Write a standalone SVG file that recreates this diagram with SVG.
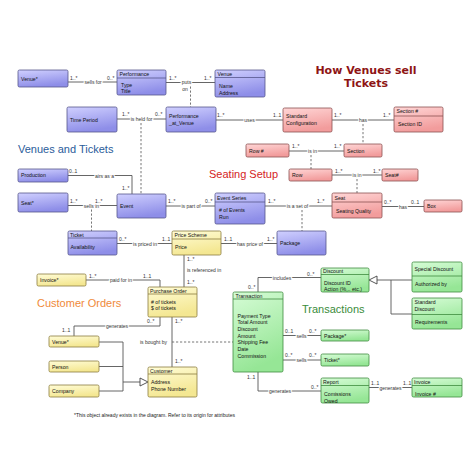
<svg xmlns="http://www.w3.org/2000/svg" width="474" height="474" viewBox="0 0 474 474">
<style>
text{font-family:"Liberation Sans",Arial,sans-serif}
.t{font-size:5.2px;fill:#111}
.l{font-size:5px;fill:#333}
.m{text-anchor:middle;stroke:#fff;stroke-width:2;paint-order:stroke}
.c{fill:none;stroke:#555;stroke-width:0.9}
.d{fill:none;stroke:#666;stroke-width:0.9;stroke-dasharray:2.2,1.8}
.b rect{fill:url(#gb);stroke:#55558c;stroke-width:0.8}
.r rect{fill:url(#gr);stroke:#8c5050;stroke-width:0.8}
.y rect{fill:url(#gy);stroke:#8c7c40;stroke-width:0.8}
.g rect{fill:url(#gg);stroke:#3f8c3f;stroke-width:0.8}
.b line{stroke:#55558c;stroke-width:0.8}
.r line{stroke:#8c5050;stroke-width:0.8}
.y line{stroke:#8c7c40;stroke-width:0.8}
.g line{stroke:#3f8c3f;stroke-width:0.8}
.h{font-size:11px}
.ttl{font-family:"DejaVu Sans",sans-serif;font-weight:bold;font-size:11px;fill:#8e1414;text-anchor:middle}
</style>
<defs>
<linearGradient id="gb" x1="0" y1="0" x2="0.3" y2="1"><stop offset="0" stop-color="#d0d0ff"/><stop offset="1" stop-color="#8e8ee8"/></linearGradient>
<linearGradient id="gr" x1="0" y1="0" x2="0.3" y2="1"><stop offset="0" stop-color="#ffd6d6"/><stop offset="1" stop-color="#f29c9c"/></linearGradient>
<linearGradient id="gy" x1="0" y1="0" x2="0.3" y2="1"><stop offset="0" stop-color="#fffcd6"/><stop offset="1" stop-color="#f4e792"/></linearGradient>
<linearGradient id="gg" x1="0" y1="0" x2="0.3" y2="1"><stop offset="0" stop-color="#d6fcd6"/><stop offset="1" stop-color="#96e696"/></linearGradient>
</defs>
<rect width="474" height="474" fill="#fff"/>

<!-- titles -->
<text x="366" y="73.5" class="ttl">How Venues sell</text>
<text x="366" y="86.5" class="ttl">Tickets</text>
<text x="18" y="153" class="h" fill="#2a5c9a">Venues and Tickets</text>
<text x="209" y="178" class="h" fill="#d42424">Seating Setup</text>
<text x="37" y="307" class="h" fill="#f08a3a">Customer Orders</text>
<text x="302" y="313" class="h" fill="#3a8c3a">Transactions</text>
<text x="74" y="416.5" style="font-size:5px;fill:#222">*This object already exists in the diagram. Refer to its origin for attributes</text>

<!-- connectors -->
<g id="connectors">
<line class="c" x1="68" y1="82" x2="117" y2="82"/>
<line class="c" x1="166" y1="82.5" x2="215" y2="82.5"/>
<line class="d" x1="190.5" y1="82.5" x2="190.5" y2="107"/>
<line class="c" x1="117" y1="119" x2="166" y2="119"/>
<line class="d" x1="141" y1="119" x2="141" y2="194"/>
<line class="c" x1="216" y1="120" x2="283" y2="120"/>
<line class="c" x1="332" y1="120" x2="394" y2="120"/>
<line class="d" x1="363" y1="120" x2="363" y2="144"/>
<line class="c" x1="289" y1="151" x2="344" y2="151"/>
<line class="d" x1="311" y1="151" x2="311" y2="169"/>
<path class="c" d="M68,175.5 H132 V194"/>
<line class="c" x1="68" y1="205.5" x2="117" y2="205.5"/>
<line class="d" x1="91.5" y1="205.5" x2="91.5" y2="231"/>
<line class="c" x1="166" y1="206" x2="215" y2="206"/>
<line class="c" x1="265" y1="206" x2="332" y2="206"/>
<line class="d" x1="302" y1="206" x2="302" y2="231"/>
<line class="c" x1="332" y1="175" x2="382" y2="175"/>
<line class="d" x1="357" y1="175" x2="357" y2="193"/>
<line class="c" x1="382" y1="206.5" x2="424" y2="206.5"/>
<line class="c" x1="117" y1="243.5" x2="172" y2="243.5"/>
<line class="c" x1="221" y1="243.5" x2="277" y2="243.5"/>
<line class="c" x1="184" y1="255" x2="184" y2="287"/>
<path class="c" d="M86,280 H160 V287"/>
<path class="c" d="M160,317 V326 H74 V336"/>
<line class="c" x1="172" y1="317" x2="172" y2="367"/>
<line class="d" x1="172" y1="342" x2="233" y2="342"/>
<path class="c" d="M99,342 H123 M99,366.5 H123 M99,391 H123 M123,342 V391 M123,382 H140"/>
<polygon points="140,378 148,382 140,386" fill="#fff" stroke="#444" stroke-width="0.9"/>
<path class="c" d="M258,292 V277.5 H321"/>
<path class="c" d="M377,280 H412 M391,280 V314 H412"/>
<polygon points="369,280 377,276 377,284" fill="#fff" stroke="#444" stroke-width="0.9"/>
<line class="c" x1="283" y1="335.5" x2="321" y2="335.5"/>
<line class="c" x1="283" y1="360" x2="321" y2="360"/>
<path class="c" d="M258,372 V391 H321"/>
<line class="c" x1="369" y1="387.5" x2="412" y2="387.5"/>

<!-- labels -->
<text class="l" x="70" y="79.5">1..*</text>
<text class="l m" x="93" y="84">sells for</text>
<text class="l" x="107" y="79.5">0..*</text>
<text class="l" x="169" y="80">1..*</text>
<text class="l m" x="186.5" y="84">puts</text>
<text class="l m" x="185" y="91">on</text>
<text class="l" x="204" y="80">1..*</text>
<text class="l" x="122" y="116">1..*</text>
<text class="l m" x="141.5" y="121">is held for</text>
<text class="l" x="155" y="116">0..*</text>
<text class="l" x="217" y="117">1..*</text>
<text class="l m" x="249.5" y="122">uses</text>
<text class="l" x="273" y="117">1..1</text>
<text class="l" x="334" y="117">1..*</text>
<text class="l m" x="363" y="122">has</text>
<text class="l" x="383" y="117">1..*</text>
<text class="l" x="292" y="148">1..*</text>
<text class="l m" x="312.5" y="153">is in</text>
<text class="l" x="334" y="148">1..*</text>
<text class="l" x="69" y="173">0..1</text>
<text class="l m" x="104.5" y="177.5">airs as a</text>
<text class="l" x="122" y="190">1..*</text>
<text class="l" x="70" y="203">1..*</text>
<text class="l m" x="91.5" y="207.5">sells in</text>
<text class="l" x="95" y="202.5">1..*</text>
<text class="l" x="168" y="203">1..*</text>
<text class="l m" x="191" y="208">is part of</text>
<text class="l" x="205" y="203">0..*</text>
<text class="l" x="268" y="203">1..*</text>
<text class="l m" x="297.5" y="208">is a set of</text>
<text class="l" x="317" y="203">1..*</text>
<text class="l" x="335" y="172.5">1..*</text>
<text class="l m" x="357" y="177">is in</text>
<text class="l" x="373" y="172.5">1..*</text>
<text class="l" x="384" y="203.5">0..*</text>
<text class="l m" x="403" y="208.5">has</text>
<text class="l" x="411" y="203.5">0..1</text>
<text class="l" x="119" y="240.5">0..*</text>
<text class="l m" x="145" y="245.5">is priced in</text>
<text class="l" x="162" y="240.5">1..1</text>
<text class="l" x="224" y="240.5">1..1</text>
<text class="l m" x="250" y="245.5">has price of</text>
<text class="l" x="267" y="240.5">1..*</text>
<text class="l" x="187" y="261">1..*</text>
<text class="l" x="187" y="271.5">is referenced in</text>
<text class="l" x="187" y="283.5">1..*</text>
<text class="l" x="89" y="277.5">1..*</text>
<text class="l m" x="121" y="282">paid for in</text>
<text class="l" x="143" y="277.5">1..1</text>
<text class="l" x="147" y="323">0..*</text>
<text class="l m" x="117" y="328">generates</text>
<text class="l" x="62" y="331.5">1..1</text>
<text class="l" x="175" y="323">1..*</text>
<text class="l" x="175" y="363">1..*</text>
<text class="l" x="140" y="344">is bought by</text>
<text class="l" x="248" y="288.5">0..*</text>
<text class="l m" x="282" y="279.5">includes</text>
<text class="l" x="307" y="275.5">0..*</text>
<text class="l" x="285" y="333">0..1</text>
<text class="l m" x="301.5" y="337.5">sells</text>
<text class="l" x="309" y="332.5">0..*</text>
<text class="l" x="285" y="357">0..*</text>
<text class="l m" x="301.5" y="362">sells</text>
<text class="l" x="309" y="356.5">0..*</text>
<text class="l" x="247" y="379">1..1</text>
<text class="l m" x="280" y="393">generates</text>
<text class="l" x="311" y="388.5">0..*</text>
<text class="l" x="371" y="384.5">1..1</text>
<text class="l m" x="390.5" y="389.5">generates</text>
<text class="l" x="403" y="384.5">1..1</text>
</g>

<!-- blue nodes -->
<g id="venue-star" class="b"><rect x="18" y="70" width="50" height="17" rx="1.5"/><text class="t" x="21" y="80.5">Venue*</text></g>
<g id="performance" class="b"><rect x="117" y="70" width="49" height="25" rx="1.5"/><line x1="117" y1="78" x2="166" y2="78"/><text class="t" x="119.5" y="76">Performance</text><text class="t" x="121" y="86.5">Type</text><text class="t" x="121" y="93">Title</text></g>
<g id="venue" class="b"><rect x="215" y="70" width="50" height="27" rx="1.5"/><line x1="215" y1="77.5" x2="265" y2="77.5"/><text class="t" x="217.5" y="76">Venue</text><text class="t" x="219" y="88">Name</text><text class="t" x="219" y="94.5">Address</text></g>
<g id="time-period" class="b"><rect x="67" y="107" width="50" height="25" rx="1.5"/><text class="t" x="70" y="121.5">Time Period</text></g>
<g id="performance-at-venue" class="b"><rect x="166" y="107" width="50" height="25" rx="1.5"/><text class="t" x="169" y="117.5">Performance</text><text class="t" x="169" y="124.5">_at_Venue</text></g>
<g id="production" class="b"><rect x="18" y="169" width="50" height="13" rx="1.5"/><text class="t" x="21" y="177">Production</text></g>
<g id="seat-star" class="b"><rect x="18" y="193" width="50" height="19" rx="1.5"/><text class="t" x="21" y="204.5">Seat*</text></g>
<g id="event" class="b"><rect x="117" y="194" width="49" height="24" rx="1.5"/><text class="t" x="120" y="207.5">Event</text></g>
<g id="ticket" class="b"><rect x="68" y="231" width="49" height="24" rx="1.5"/><line x1="68" y1="238" x2="117" y2="238"/><text class="t" x="70" y="236.5">Ticket</text><text class="t" x="70.5" y="248.5">Availability</text></g>
<g id="event-series" class="b"><rect x="215" y="193" width="50" height="31" rx="1.5"/><line x1="215" y1="202" x2="265" y2="202"/><text class="t" x="217" y="199.5">Event Series</text><text class="t" x="219" y="212">&#35; of Events</text><text class="t" x="219" y="218.5">Run</text></g>
<g id="package" class="b"><rect x="277" y="231" width="49" height="24" rx="1.5"/><text class="t" x="280" y="244.5">Package</text></g>

<!-- red nodes -->
<g id="standard-configuration" class="r"><rect x="283" y="108" width="49" height="24" rx="1.5"/><text class="t" x="286" y="117.5">Standard</text><text class="t" x="286" y="124.5">Configuration</text></g>
<g id="section-number" class="r"><rect x="394" y="107" width="49" height="25" rx="1.5"/><line x1="394" y1="116" x2="443" y2="116"/><text class="t" x="396.5" y="113">Section #</text><text class="t" x="398" y="126">Section ID</text></g>
<g id="row-number" class="r"><rect x="246" y="144" width="43" height="13" rx="1.5"/><text class="t" x="249" y="152.5">Row #</text></g>
<g id="section" class="r"><rect x="344" y="144" width="38" height="13" rx="1.5"/><text class="t" x="347" y="152.5">Section</text></g>
<g id="row" class="r"><rect x="289" y="169" width="43" height="12" rx="1.5"/><text class="t" x="292" y="177">Row</text></g>
<g id="seat-number" class="r"><rect x="382" y="169" width="36" height="12" rx="1.5"/><text class="t" x="385" y="177">Seat#</text></g>
<g id="seat" class="r"><rect x="332" y="193" width="50" height="25" rx="1.5"/><line x1="332" y1="202" x2="382" y2="202"/><text class="t" x="334.5" y="199.5">Seat</text><text class="t" x="336" y="212.5">Seating Quality</text></g>
<g id="box" class="r"><rect x="424" y="200" width="38" height="12" rx="1.5"/><text class="t" x="427" y="208">Box</text></g>

<!-- yellow nodes -->
<g id="price-scheme" class="y"><rect x="172" y="231" width="49" height="24" rx="1.5"/><line x1="172" y1="239" x2="221" y2="239"/><text class="t" x="174.5" y="237">Price Scheme</text><text class="t" x="175" y="249">Price</text></g>
<g id="invoice-star" class="y"><rect x="37" y="274" width="49" height="12" rx="1.5"/><text class="t" x="40" y="282">Invoice*</text></g>
<g id="purchase-order" class="y"><rect x="148" y="287" width="49" height="30" rx="1.5"/><line x1="148" y1="294" x2="197" y2="294"/><text class="t" x="150" y="292.5">Purchase Order</text><text class="t" x="151" y="303.5">&#35; of tickets</text><text class="t" x="151" y="310">$ of tickets</text></g>
<g id="venue-star-2" class="y"><rect x="49" y="336" width="50" height="11" rx="1.5"/><text class="t" x="52" y="343.5">Venue*</text></g>
<g id="person" class="y"><rect x="49" y="361" width="50" height="11" rx="1.5"/><text class="t" x="52" y="368.5">Person</text></g>
<g id="company" class="y"><rect x="49" y="385" width="50" height="12" rx="1.5"/><text class="t" x="52" y="393">Company</text></g>
<g id="customer" class="y"><rect x="148" y="367" width="49" height="30" rx="1.5"/><line x1="148" y1="374" x2="197" y2="374"/><text class="t" x="150" y="372.5">Customer</text><text class="t" x="151" y="384">Address</text><text class="t" x="151" y="391">Phone Number</text></g>

<!-- green nodes -->
<g id="transaction" class="g"><rect x="233" y="292" width="50" height="80" rx="1.5"/><line x1="233" y1="299" x2="283" y2="299"/><text class="t" x="235.5" y="297.5">Transaction</text>
<text class="t" x="237.5" y="317.5">Payment Type</text><text class="t" x="237.5" y="324.2">Total Amount</text><text class="t" x="237.5" y="330.8">Discount</text><text class="t" x="237.5" y="337.5">Amount</text><text class="t" x="237.5" y="344.2">Shipping Fee</text><text class="t" x="237.5" y="350.8">Date</text><text class="t" x="237.5" y="357.5">Commission</text></g>
<g id="discount" class="g"><rect x="321" y="268" width="48" height="24" rx="1.5"/><line x1="321" y1="274.5" x2="369" y2="274.5"/><text class="t" x="323" y="273">Discount</text><text class="t" x="324" y="284.5">Discount ID</text><text class="t" x="324" y="291">Action (%,.. etc.)</text></g>
<g id="special-discount" class="g"><rect x="412" y="262" width="50" height="30" rx="1.5"/><line x1="412" y1="276" x2="462" y2="276"/><text class="t" x="414.5" y="271">Special Discount</text><text class="t" x="415" y="286">Authorized by</text></g>
<g id="standard-discount" class="g"><rect x="412" y="298" width="50" height="31" rx="1.5"/><line x1="412" y1="314.5" x2="462" y2="314.5"/><text class="t" x="414.5" y="304">Standard</text><text class="t" x="414.5" y="311">Discount</text><text class="t" x="415" y="323.5">Requirements</text></g>
<g id="package-star" class="g"><rect x="321" y="330" width="48" height="11" rx="1.5"/><text class="t" x="324" y="337.5">Package*</text></g>
<g id="ticket-star" class="g"><rect x="321" y="354" width="48" height="12" rx="1.5"/><text class="t" x="324" y="362">Ticket*</text></g>
<g id="report" class="g"><rect x="321" y="378" width="48" height="25" rx="1.5"/><line x1="321" y1="385.5" x2="369" y2="385.5"/><text class="t" x="323" y="384">Report</text><text class="t" x="324" y="396">Comissions</text><text class="t" x="324" y="402.5">Owed</text></g>
<g id="invoice" class="g"><rect x="412" y="378" width="50" height="19" rx="1.5"/><line x1="412" y1="385.5" x2="462" y2="385.5"/><text class="t" x="414" y="384">Invoice</text><text class="t" x="415" y="396">Invoice #</text></g>
</svg>
